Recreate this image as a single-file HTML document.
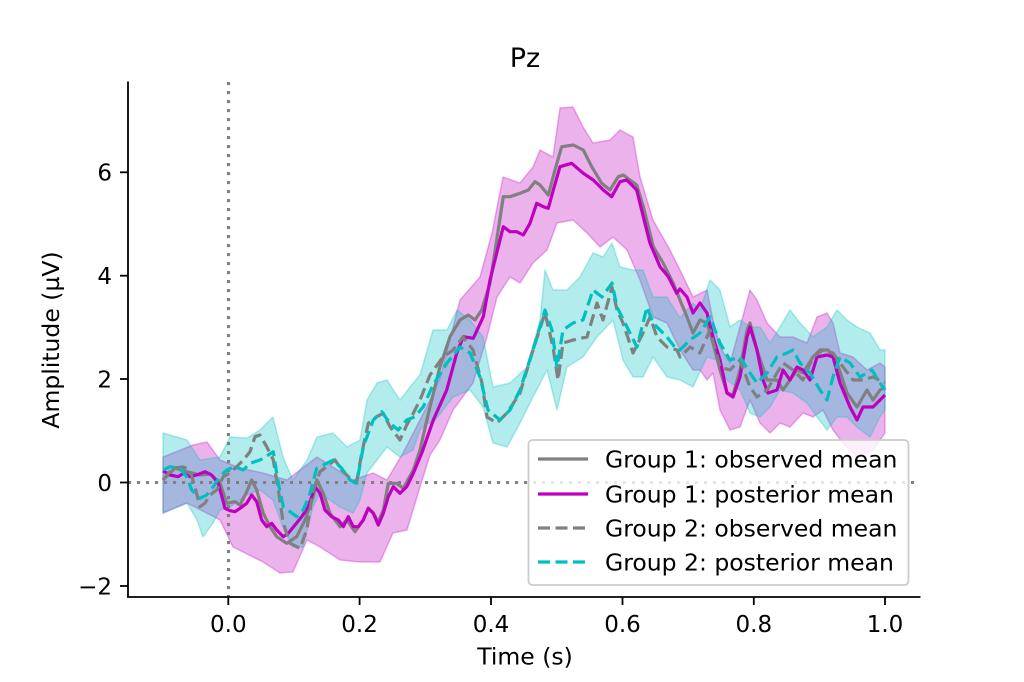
<!DOCTYPE html>
<html><head><meta charset="utf-8"><style>
html,body{margin:0;padding:0;background:#fff;}
svg{display:block;font-family:"DejaVu Sans","Liberation Sans",sans-serif;}
</style></head><body>
<svg width="1024" height="682" viewBox="0 0 1024 682" xmlns="http://www.w3.org/2000/svg">
<rect width="1024" height="682" fill="#fff"/>

<!-- Group 1 band (magenta) -->
<polygon fill="rgba(191,0,191,0.3)" stroke="rgba(191,0,191,0.3)" stroke-width="1.5" stroke-linejoin="round" points="
163,457 193,445 207,442 220,460 240,468 263,473 287,480 300,470 317,457 333,467 353,480 373,473 387,480 403,453 420,420 430,400 440,378 460,300 480,277 492,233 503,177 520,183 533,167 540,150 553,157 560,108 573,107 583,127 593,143 610,140 620,130 633,137 640,177 653,220 670,250 680,270 693,297 707,290 713,320 720,347 730,363 740,327 750,290 757,300 767,323 780,337 793,337 807,343 817,317 827,313 833,323 840,353 853,357 867,370 880,363 885,367
885,433 873,450 857,457 843,443 833,430 823,410 813,417 803,413 790,427 780,423 770,433 760,423 750,400 740,427 730,430 720,410 713,373 707,380 700,370 693,370 680,350 667,323 653,317 640,280 627,250 613,237 600,247 587,233 573,220 557,223 547,250 533,263 520,283 510,277 497,297 487,337 473,383 453,410 440,440 430,455 420,487 407,530 393,533 380,562 360,562 340,560 320,547 307,540 293,572 280,573 263,562 233,547 220,520 187,503 163,513"/>

<!-- Group 2 band (cyan) -->
<polygon fill="rgba(0,191,191,0.3)" stroke="rgba(0,191,191,0.3)" stroke-width="1.5" stroke-linejoin="round" points="
163,433 187,440 200,460 220,457 230,437 247,438 260,430 273,417 283,457 293,480 307,460 317,437 333,433 347,447 360,440 367,400 377,383 387,380 400,400 410,387 420,375 433,330 447,330 457,310 470,320 483,337 493,387 510,383 527,367 540,320 545,270 553,290 567,290 580,277 593,253 603,257 612,243 620,267 633,270 643,270 653,297 667,297 680,318 693,303 700,310 710,280 720,290 730,327 740,320 750,327 760,327 770,343 780,327 790,310 800,323 813,337 827,327 837,310 847,320 857,327 870,333 880,350 885,350
885,410 880,417 870,437 857,427 847,417 837,417 827,430 817,417 807,403 793,393 780,390 770,407 760,417 750,413 740,390 727,380 717,360 707,357 693,387 680,380 667,377 653,357 643,377 633,377 623,360 613,320 597,337 583,357 567,367 557,410 547,370 533,397 520,423 507,447 493,443 483,407 470,390 453,397 433,423 427,423 420,430 413,450 400,457 387,447 367,473 360,500 353,513 340,507 320,493 313,507 303,547 293,547 283,527 273,500 260,490 247,495 230,507 220,510 213,523 203,537 197,520 187,503 163,513"/>

<!-- reference dotted lines -->
<line x1="128" y1="482.5" x2="920" y2="482.5" stroke="#808080" stroke-width="3.1" stroke-dasharray="3.1,5.9"/>
<line x1="228.5" y1="82" x2="228.5" y2="597" stroke="#808080" stroke-width="3.1" stroke-dasharray="3.1,5.9"/>

<!-- Group 1 observed (gray solid) -->
<polyline fill="none" stroke="#808080" stroke-width="3.2" stroke-linejoin="round" stroke-linecap="butt" points="
163,480 175,468 186.7,471.7 200,475 210,474 220,483 226.7,503.3 235,501.7 240,505 246.7,491.7 251.7,480 256.7,490 263.3,513.3 270,526.7 276.7,536.7 286.7,543.3 296.7,536.7 305,520 313.3,496.7 316.7,480 323.3,493.3 330,513.3 340,526.7 346.7,520 355,531.7 363.3,520 368.3,508 373.3,513 378.3,522 383.3,510 388.3,483.3 396.7,483.3 403.3,488.3 413.3,470 420,450 430,406.7 440,366.7 450,336.7 460,320 468.3,315 475,320 481.7,310 490,283.3 496.7,240 503.3,196.7 510,196.7 520,193.3 528.3,190 535,181.7 540,185 548.3,195 555,170 561.7,146.7 573.3,145 583.3,150 591.7,166.7 601.7,183.3 610,190 618.3,176.7 623.3,175 636.7,185 643.3,206.7 653.3,246.7 663.3,263.3 673.3,283.3 680,300 687,317 693,333 700,320 707,323 713,343 720,370 727,393 733,395 740,370 747,330 750,323 757,350 767,380 777,380 783,390 790,380 797,370 803,373 813,357 820,350 828,350 837,363 847,393 857,407 867,390 873,400 880,390 885,387"/>

<!-- Group 1 posterior (magenta solid) -->
<polyline fill="none" stroke="#bf00bf" stroke-width="3.2" stroke-linejoin="round" points="
163,470.7 170,475 178.3,476.7 183.3,473.3 190,476.7 196.7,475 205,471.7 211.7,475 218.3,483.3 225,508.3 230,510.7 235,511.7 240,508.3 246.7,503.3 251.7,495 256.7,501.7 261.7,520 266.7,526.7 271.7,523.3 276.7,530 283.3,536.7 288.3,533.3 295,525 301.7,516.7 308.3,506.7 315,486.7 320,493.3 325,510 331.7,516.7 338.3,520 343.3,526.7 348.3,516.7 353.3,526.7 358.3,526.7 363.3,520 368.3,508.3 373.3,513.3 378.3,525 383.3,513.3 388.3,496.7 393.3,486.7 400,493.3 406.7,486.7 413.3,473.3 421.7,453.3 433.3,420 446.7,390 456.7,353.3 463.3,336.7 473.3,338.3 483.3,316.7 490,280 498.3,246.7 503.3,226.7 510,231.7 516.7,231.7 523.3,235 530,223.3 536.7,203.3 543.3,206.7 548.3,208.3 553.3,190 560,166.7 571.7,163.3 583.3,173.3 593.3,180 603.3,190 611.7,196.7 620,181.7 626.7,180 636.7,190 643.3,216.7 650,243.3 660,266.7 668.3,276.7 676.7,293.3 680,289 687,297 693,313 700,303 707,313 713,337 720,360 727,393 733,397 740,377 747,337 750,327 757,350 763,380 768,393 777,390 783,370 790,380 797,367 803,370 810,380 817,357 827,355 833,357 840,383 850,407 857,420 863,407 873,407 880,400 885,395"/>

<!-- Group 2 observed (gray dashed) -->
<polyline fill="none" stroke="#808080" stroke-width="3.2" stroke-linejoin="round" stroke-dasharray="12,5.5" points="
163,480 173,468 183,467 190,470 195,487 200,506.7 205,503 210,495 216.7,490 223.3,476.7 230,473 236.7,466.7 243.3,460 250,451.7 255,436.7 260,435 266.7,446.7 273.3,460 278.3,490 283.3,523.3 290,543.3 300,548.3 306.7,530 313.3,490 320,471.7 326.7,466.7 335,460 341.7,470 350,478.3 356.7,481.7 361.7,453.3 368.3,423.3 376.7,416.7 383.3,413.3 390,426.7 400,440 406.7,425 413.3,413.3 420,400 430,375 443,357 453,350 463,337 473,350 482,383 487,417 497,423 507,413 520,393 533,350 545,313 553,347 558,380 563,343 573,340 587,337 597,303 603,320 612,287 617,310 623,323 633,353 643,333 650,317 657,337 667,347 677,350 680,357 690,347 700,353 710,330 720,367 730,370 740,360 750,387 757,397 767,390 777,373 783,363 793,370 803,380 813,357 823,350 833,353 843,367 853,380 863,380 873,377 885,383"/>

<!-- Group 2 posterior (cyan dashed) -->
<polyline fill="none" stroke="#00bfbf" stroke-width="3.2" stroke-linejoin="round" stroke-dasharray="12,5.5" points="
163.3,470 170,466.7 180,468.3 186.7,476.7 191.7,490 200,498.3 206.7,495 213.3,486.7 220,476.7 226.7,470 235,466.7 243.3,470 250,463.3 260,460 268.3,455 273.3,451.7 278.3,483.3 283.3,506.7 290,511.7 296.7,516.7 303.3,510 310,493.3 316.7,468.3 323.3,465 333.3,460 341.7,468.3 350,480 356.7,483.3 363.3,446.7 373.3,420 381.7,411.7 390,423.3 398.3,430 406.7,420 415,416.7 423.3,406.7 433,385 447,363 460,347 470,353 480,377 488,410 500,420 510,410 520,390 533,350 545,310 552,330 557,367 563,330 573,323 583,320 593,290 602,297 612,283 617,307 627,327 637,347 647,307 653,323 667,337 677,350 680,350 690,340 700,333 710,317 720,343 730,360 740,357 750,373 757,383 767,373 777,357 787,353 793,350 800,363 810,373 820,390 827,400 833,377 840,357 850,363 860,377 872,370 880,383 885,390"/>

<!-- spines -->
<line x1="128" y1="81.5" x2="128" y2="597.5" stroke="#000" stroke-width="1.8"/>
<line x1="127.1" y1="597" x2="920.5" y2="597" stroke="#000" stroke-width="1.8"/>

<!-- y ticks -->
<g stroke="#000" stroke-width="1.8">
<line x1="120" y1="172.3" x2="128" y2="172.3"/>
<line x1="120" y1="275.7" x2="128" y2="275.7"/>
<line x1="120" y1="379" x2="128" y2="379"/>
<line x1="120" y1="482.5" x2="128" y2="482.5"/>
<line x1="120" y1="586" x2="128" y2="586"/>
</g>
<g font-size="23" fill="#000" text-anchor="end">
<text x="112" y="180.6">6</text>
<text x="112" y="284">4</text>
<text x="112" y="387.3">2</text>
<text x="112" y="490.8">0</text>
<text x="112" y="594.3">−2</text>
</g>

<!-- x ticks -->
<g stroke="#000" stroke-width="1.8">
<line x1="228.3" y1="597" x2="228.3" y2="605"/>
<line x1="359.6" y1="597" x2="359.6" y2="605"/>
<line x1="491" y1="597" x2="491" y2="605"/>
<line x1="622.5" y1="597" x2="622.5" y2="605"/>
<line x1="753.8" y1="597" x2="753.8" y2="605"/>
<line x1="885" y1="597" x2="885" y2="605"/>
</g>
<g font-size="23" fill="#000" text-anchor="middle">
<text x="228.3" y="632">0.0</text>
<text x="359.6" y="632">0.2</text>
<text x="491" y="632">0.4</text>
<text x="622.5" y="632">0.6</text>
<text x="753.8" y="632">0.8</text>
<text x="885" y="632">1.0</text>
</g>

<!-- axis labels & title -->
<text x="525" y="664.5" font-size="23.5" text-anchor="middle" fill="#000">Time (s)</text>
<text transform="translate(59,340) rotate(-90)" font-size="23.5" text-anchor="middle" fill="#000">Amplitude (µV)</text>
<text x="525" y="67" font-size="27" text-anchor="middle" fill="#000">Pz</text>

<!-- legend -->
<rect x="528.5" y="440" width="380" height="145" rx="4" ry="4" fill="rgba(255,255,255,0.8)" stroke="#cccccc" stroke-width="1.8"/>
<line x1="538" y1="459" x2="588" y2="459" stroke="#808080" stroke-width="3.2"/>
<line x1="538" y1="494" x2="588" y2="494" stroke="#bf00bf" stroke-width="3.2"/>
<line x1="538" y1="528" x2="588" y2="528" stroke="#808080" stroke-width="3.2" stroke-dasharray="12,5.5"/>
<line x1="538" y1="562" x2="588" y2="562" stroke="#00bfbf" stroke-width="3.2" stroke-dasharray="12,5.5"/>
<g font-size="23.5" fill="#000">
<text x="605" y="467.5">Group 1: observed mean</text>
<text x="605" y="502.5">Group 1: posterior mean</text>
<text x="605" y="536.5">Group 2: observed mean</text>
<text x="605" y="570.5">Group 2: posterior mean</text>
</g>
</svg>
</body></html>
